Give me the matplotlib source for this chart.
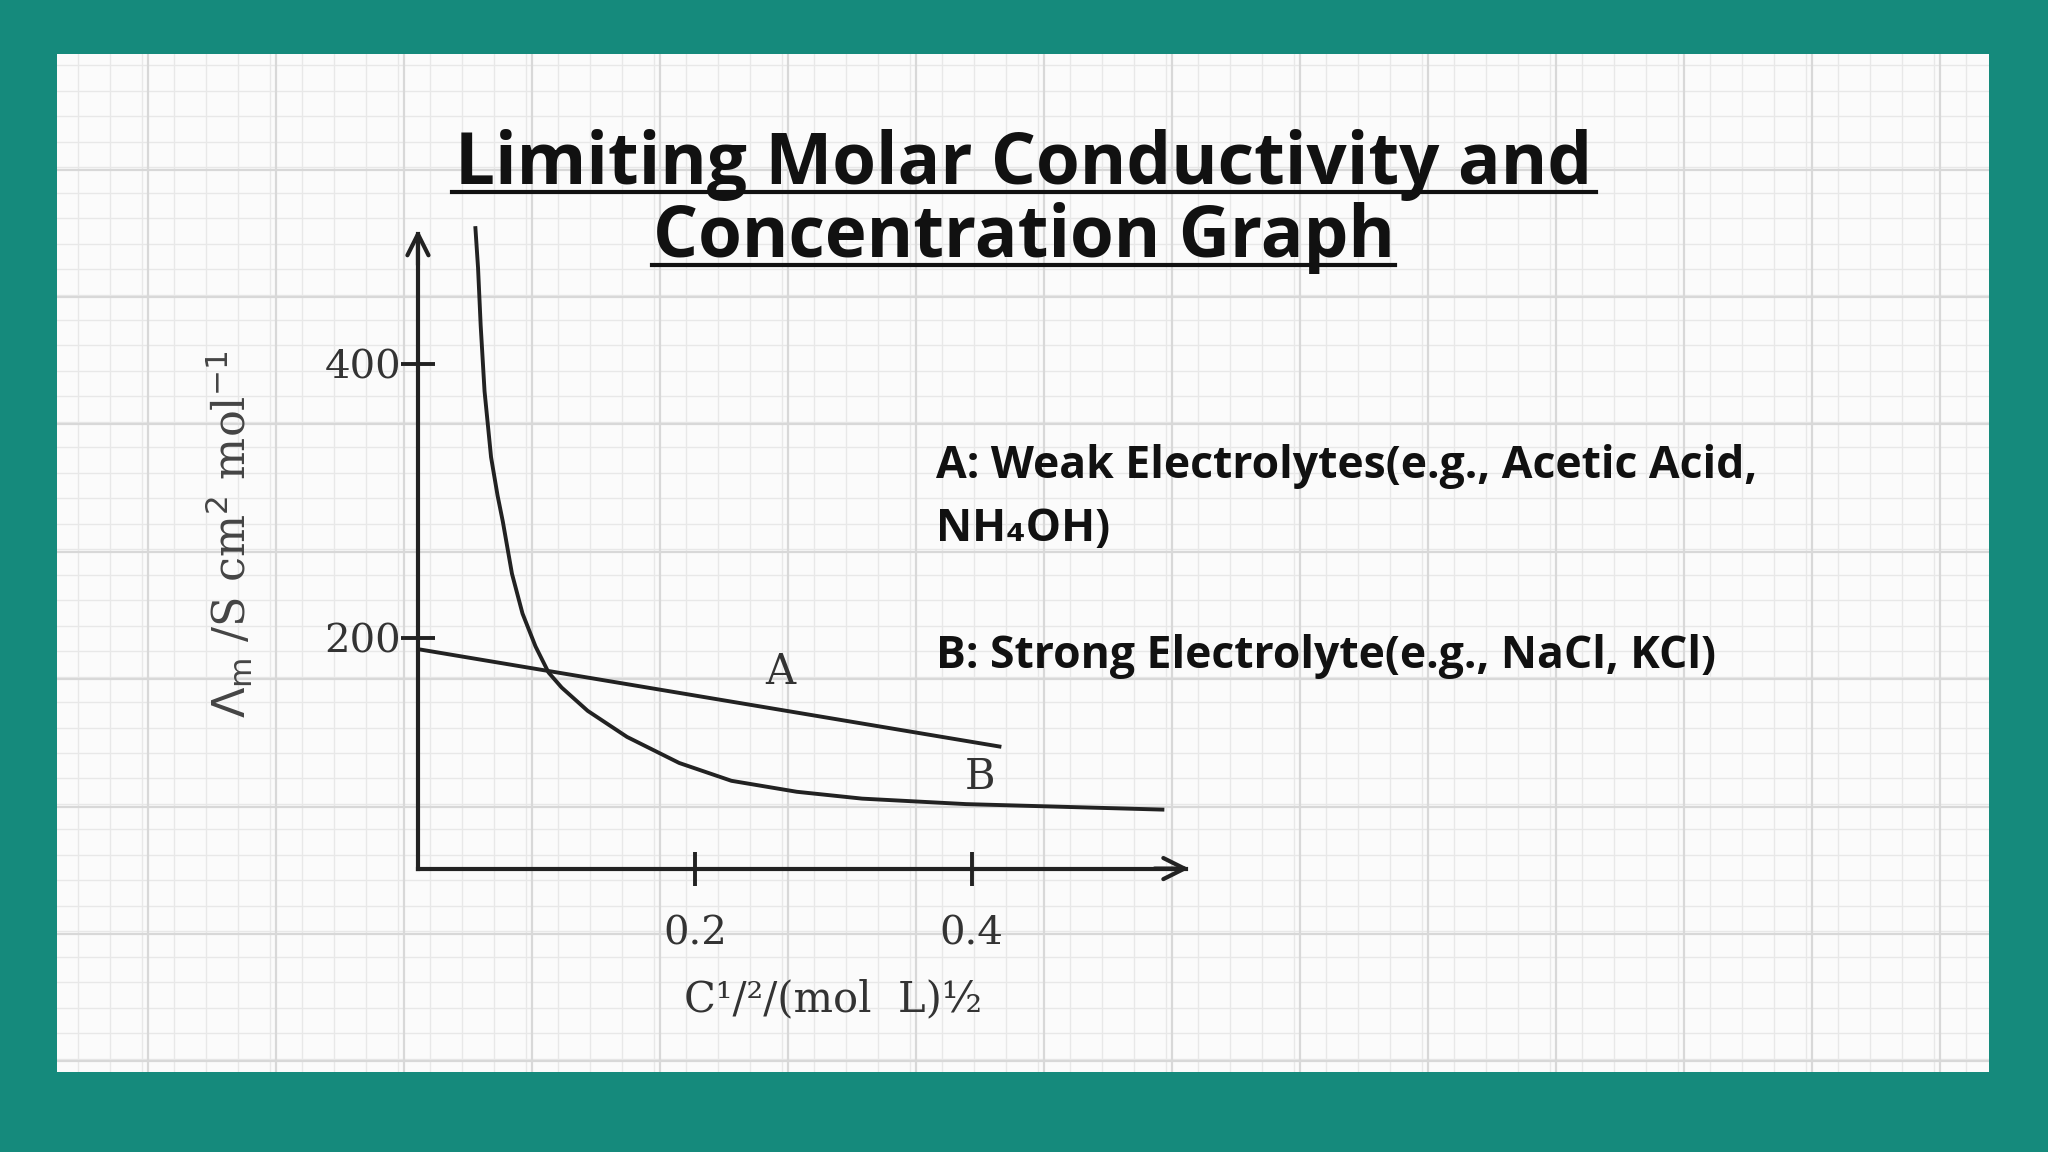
import matplotlib.pyplot as plt
import numpy as np

# curve A (weak electrolyte) and B (strong electrolyte)
a_x = [0.0, 0.42]
a_y = [192, 121]
b_x = [0.0415, 0.0434, 0.0453, 0.0481, 0.0528, 0.0575, 0.0613, 0.0679, 0.0755, 0.0849,
       0.0943, 0.1038, 0.1226, 0.151, 0.1887, 0.2264, 0.2736, 0.3208, 0.396, 0.5377]
b_y = [499, 470, 428, 380, 332, 304, 285, 247, 218, 194,
       175, 164, 147, 128, 109, 96, 88, 83, 79, 75]
x_ticks = [0.2, 0.4]
y_ticks = [200, 400]

title_lines = ["Limiting Molar Conductivity and", "Concentration Graph"]
notes = ["A: Weak Electrolytes(e.g., Acetic Acid,", "NH\u2084OH)", "", "B: Strong Electrolyte(e.g., NaCl, KCl)"]
sans = ["Open Sans", "DejaVu Sans"]

W, H = 1568, 882
fig = plt.figure(figsize=(20.48, 11.52), dpi=100)
fig.patch.set_facecolor("#158a7c")

# paper panel
bg = fig.add_axes([44 / W, 1 - 821 / H, (1523 - 44) / W, (821 - 41) / H])
bg.set_facecolor("#fbfbfb")
bg.set_xlim(44, 1523)
bg.set_ylim(821, 41)
for x in np.arange(60, 1523, 24.5):
    bg.axvline(x, color="#e8e8e8", lw=1)
for y in np.arange(50, 821, 19.5):
    bg.axhline(y, color="#e8e8e8", lw=1)
for x in np.arange(113, 1523, 98):
    bg.axvline(x, color="#d8d8d8", lw=1.6)
for y in np.arange(130, 821, 97.5):
    bg.axhline(y, color="#d8d8d8", lw=1.6)
bg.set_xticks([])
bg.set_yticks([])
for s in bg.spines.values():
    s.set_visible(False)

# title with underline
for t, yb, x0, x1 in [(title_lines[0], 141, 346, 1222), (title_lines[1], 197, 499, 1068)]:
    fig.text(0.5, 1 - yb / H, t, ha="center", va="baseline", fontsize=51,
             fontweight="bold", family=sans, color="#111111")
    bg.plot([x0, x1], [yb + 6, yb + 6], color="#111111", lw=3)

for i, t in enumerate(notes):
    fig.text(717 / W, 1 - (357 + i * 48.5) / H, t, ha="left", va="center",
             fontsize=32, fontweight="bold", family=sans, color="#111111")

# plot area
ax = fig.add_axes([320 / W, 1 - 665 / H, 0.6 * 1060 / W, (665 - 152.6) / H])
ax.patch.set_alpha(0)
ax.set_xlim(0, 0.6)
ax.set_ylim(32, 520)
ax.plot(a_x, a_y, color="#222222", lw=2.8)
ax.plot(b_x, b_y, color="#222222", lw=2.8)
ax.text(0.262, 175, "A", fontsize=30, family="DejaVu Serif", color="#333333", ha="center", va="center")
ax.text(0.406, 99, "B", fontsize=30, family="DejaVu Serif", color="#333333", ha="center", va="center")

for s in ["top", "right"]:
    ax.spines[s].set_visible(False)
ax.spines["left"].set_bounds(32, 495)
ax.spines["bottom"].set_bounds(0, 0.555)
for s in ["left", "bottom"]:
    ax.spines[s].set_linewidth(3)
    ax.spines[s].set_color("#222222")
ax.annotate("", xy=(0, 500), xytext=(0, 470),
            arrowprops=dict(arrowstyle="->", lw=3, color="#222222", mutation_scale=38))
ax.annotate("", xy=(0.559, 32), xytext=(0.53, 32),
            arrowprops=dict(arrowstyle="->", lw=3, color="#222222", mutation_scale=38))
ax.set_xticks(x_ticks)
ax.set_xticklabels(["0.2", "0.4"], family="DejaVu Serif", fontsize=29, color="#333333")
ax.set_yticks(y_ticks)
ax.set_yticklabels(["200", "400"], family="DejaVu Serif", fontsize=29, color="#333333")
ax.tick_params(axis="both", direction="inout", length=24, width=2.8, color="#222222")
ax.tick_params(axis="x", pad=22)
ax.tick_params(axis="y", pad=0)
ax.set_xlabel("C\u00b9/\u00b2/(mol  L)\u00bd", family="DejaVu Serif",
              fontsize=30, color="#333333", labelpad=18)
ax.set_ylabel(r"$\Lambda_\mathrm{m}$ /S cm$^2$ mol$^{-1}$", family="DejaVu Serif",
              fontsize=32, color="#444444", labelpad=50)

fig.savefig("out.png", dpi=100, facecolor=fig.get_facecolor())
